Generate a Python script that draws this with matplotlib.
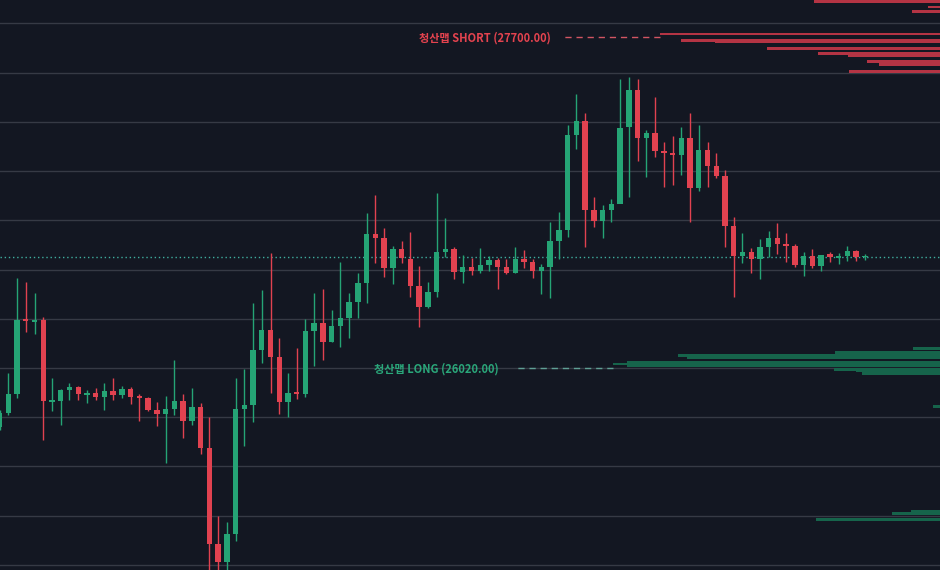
#!/usr/bin/env python3
"""Candlestick chart with liquidation map bars (dark theme)."""
import matplotlib
matplotlib.use('Agg')
import matplotlib.pyplot as plt
import numpy as np

BG = '#131722'
UP = '#25a475'
DOWN = '#e14250'

# OHLC (one row per candle, oldest first)
opens = [25720, 25791, 25888, 26270, 26254, 26264, 25849, 25854, 25908, 25925,
         25883, 25893, 25873, 25903, 25883, 25915, 25879, 25869, 25807, 25788,
         25812, 25852, 25752, 25823, 25612, 25126, 25034, 25177, 25812, 25832,
         26111, 26213, 26074, 25849, 25898, 25888, 26209, 26250, 26154, 26233,
         26274, 26355, 26453, 26701, 26679, 26530, 26623, 26574, 26437, 26328,
         26408, 26609, 26625, 26509, 26532, 26514, 26543, 26569, 26532, 26504,
         26574, 26558, 26514, 26535, 26667, 26721, 27204, 27275, 26823, 26768,
         26823, 26853, 27246, 27432, 27190, 27215, 27124, 27114, 27104, 27188,
         26936, 27127, 27046, 26995, 26741, 26589, 26609, 26574, 26635, 26680,
         26651, 26640, 26543, 26589, 26538, 26598, 26580, 26589, 26614, 26582]
highs = [25807, 25996, 26476, 26458, 26403, 26281, 25971, 25913, 25945, 25928,
         25908, 25920, 25945, 25968, 25928, 25925, 25888, 25874, 25846, 25879,
         26061, 25888, 25918, 25841, 25773, 25268, 25239, 25971, 26013, 26352,
         26416, 26603, 26171, 25996, 26120, 26267, 26403, 26421, 26315, 26557,
         26403, 26501, 26809, 26899, 26730, 26640, 26665, 26712, 26538, 26458,
         26907, 26784, 26636, 26594, 26580, 26628, 26589, 26577, 26575, 26636,
         26619, 26574, 26548, 26763, 26814, 27254, 27412, 27314, 26890, 26848,
         26879, 27488, 27500, 27488, 27229, 27398, 27170, 27199, 27246, 27317,
         27254, 27170, 27111, 27026, 26789, 26704, 26628, 26674, 26716, 26758,
         26704, 26650, 26611, 26625, 26594, 26611, 26603, 26640, 26619, 26598]
lows = [25705, 25781, 25869, 26203, 26193, 25654, 25802, 25730, 25857, 25857,
        25841, 25857, 25807, 25857, 25869, 25837, 25752, 25803, 25725, 25536,
        25781, 25666, 25730, 25583, 24984, 24984, 24989, 25141, 25625, 25747,
        26047, 25891, 25786, 25773, 25861, 25874, 26030, 26061, 26154, 26128,
        26171, 26272, 26349, 26552, 26484, 26447, 26555, 26379, 26230, 26323,
        26379, 26582, 26471, 26453, 26492, 26504, 26514, 26420, 26498, 26501,
        26526, 26476, 26396, 26376, 26572, 26687, 27133, 26633, 26735, 26679,
        26763, 26890, 26890, 27073, 26992, 27090, 26941, 26950, 27000, 26763,
        26921, 26938, 26984, 26636, 26379, 26552, 26504, 26474, 26585, 26598,
        26560, 26535, 26487, 26530, 26514, 26560, 26548, 26565, 26565, 26569]
closes = [25791, 25888, 26264, 26260, 26264, 25854, 25852, 25908, 25925, 25888,
          25893, 25871, 25903, 25883, 25913, 25873, 25869, 25807, 25786, 25812,
          25852, 25751, 25823, 25615, 25126, 25034, 25177, 25812, 25832, 26111,
          26213, 26077, 25849, 25891, 25888, 26209, 26250, 26154, 26233, 26274,
          26355, 26453, 26701, 26682, 26530, 26623, 26577, 26437, 26331, 26408,
          26609, 26625, 26509, 26532, 26514, 26543, 26569, 26535, 26504, 26574,
          26560, 26514, 26532, 26665, 26721, 27204, 27275, 26823, 26768, 26823,
          26853, 27238, 27432, 27190, 27215, 27124, 27111, 27104, 27188, 26936,
          27127, 27048, 26997, 26741, 26589, 26609, 26574, 26635, 26680, 26651,
          26641, 26543, 26589, 26538, 26594, 26585, 26589, 26614, 26585, 26584]

# liquidation map: price level -> volume
short_levels = [27883, 27853, 27832, 27716, 27685, 27676, 27643, 27616, 27604,
                27578, 27568, 27559, 27524]
short_volume = [13.4, 1.3, 3.0, 29.8, 27.6, 23.9, 18.4, 13.0, 9.8, 7.8, 6.5, 6.5, 9.7]
long_levels = [26118, 26099, 26082, 26072, 26051, 26040, 26030, 26012, 26005,
               25993, 25823, 25291, 25281, 25252]
long_volume = [2.9, 11.2, 27.9, 26.9, 33.3, 34.8, 33.3, 11.3, 8.9, 8.3, 0.7,
               3.1, 5.1, 13.2]
short_liq = 27700.00
long_liq = 26020.00

o, h, l, c = map(np.array, (opens, highs, lows, closes))
x = np.arange(len(o))
up = c >= o
colors = np.where(up, UP, DOWN)

fig = plt.figure(figsize=(9.4, 5.7), dpi=100, facecolor=BG)
ax = fig.add_axes([0, 0, 1, 1])
ax.set_facecolor(BG)

ax.vlines(x, l, h, colors=colors, linewidth=1, zorder=2)
body_lo = np.minimum(o, c)
body_h = np.maximum(np.abs(c - o), 8)
ax.bar(x, body_h, bottom=body_lo, width=0.62, color=colors, linewidth=0, zorder=3)

ax.axhline(c[-1], color='#3fae9f', linestyle=(0, (1, 2)), linewidth=1, zorder=1)

ax.set_xlim(0.05, 107.6)
ax.set_ylim(24994, 27889)
ax.set_yticks(np.arange(25020, 27800, 250))
ax.grid(axis='y', color='#363a45', linewidth=1)
ax.set_axisbelow(True)
ax.tick_params(left=False, bottom=False, labelleft=False, labelbottom=False)
for s in ax.spines.values():
    s.set_visible(False)

# liquidation bars grow from the right edge
ax2 = ax.twiny()
ax2.set_xlim(100, 0)
ax2.barh(short_levels, short_volume, height=14, color='#b43444', linewidth=0)
ax2.barh(long_levels, long_volume, height=14, color='#16644b', linewidth=0)
ax2.tick_params(top=False, labeltop=False)
for s in ax2.spines.values():
    s.set_visible(False)

kr = ['Noto Sans CJK KR', 'DejaVu Sans']
dash_len = 10.6
for price, vols, name, tc, lc, gap in [
        (short_liq, short_volume, 'SHORT', '#e5434f', '#d25563', 1.0),
        (long_liq, long_volume, 'LONG', '#2aa77a', '#5f9f94', 1.5)]:
    start = max(vols)
    ax2.plot([start, start + dash_len], [price, price], color=lc,
             linestyle=(0, (4.5, 3.5)), linewidth=1)
    ax2.text(start + dash_len + gap, price - 4, '청산맵 {} ({:.2f})'.format(name, price),
             ha='right', va='center', color=tc, fontsize=8, fontweight='bold',
             family=kr)

fig.savefig('out.png', dpi=100, facecolor=BG)
